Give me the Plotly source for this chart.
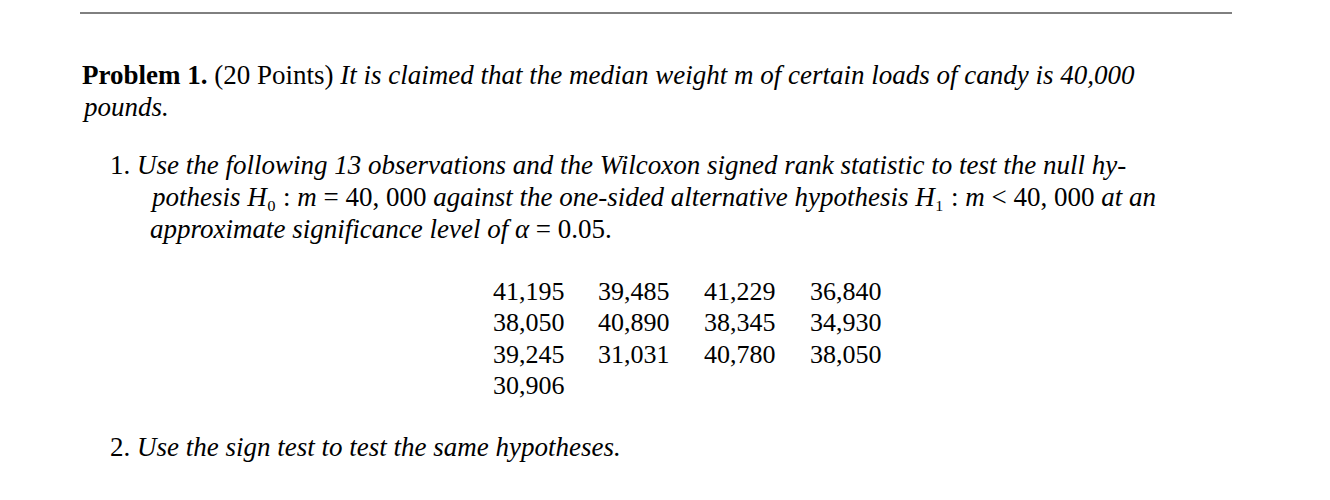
import plotly.graph_objects as go

W, H = 1330, 500
OFF = 8  # page body margin

# observations (13 values) laid out 4 per row
observations = ["41,195", "39,485", "41,229", "36,840",
                "38,050", "40,890", "38,345", "34,930",
                "39,245", "31,031", "40,780", "38,050",
                "30,906"]
col_right = [567, 672, 778, 884]
row_y = [291, 322, 354, 385]

text_lines = [
    (80, 75, "<b>Problem 1.</b> (20 Points) <i>It is claimed that the median weight m of certain loads of candy is 40,000</i>"),
    (80, 107, "<i>pounds.</i>"),
    (108, 165, "1. <i>Use the following 13 observations and the Wilcoxon signed rank statistic to test the null hy-</i>"),
    (148, 197, "<i>pothesis H</i>₀ : <i>m</i> = 40, 000 <i>against the one-sided alternative hypothesis H</i>₁ : <i>m</i> &lt; 40, 000 <i>at an</i>"),
    (148, 229, "<i>approximate significance level of α</i> = 0.05."),
    (108, 447, "2. <i>Use the sign test to test the same hypotheses.</i>"),
]

font = dict(family="Liberation Serif", size=27, color="black")
numfont = dict(family="Liberation Serif", size=26, color="black")


def px(x, y):
    return (x - OFF) / W, 1 - (y - OFF) / H


fig = go.Figure()
ann = []
for x, y, t in text_lines:
    X, Y = px(x, y)
    ann.append(dict(x=X, y=Y, xref="paper", yref="paper", text=t,
                    showarrow=False, xanchor="left", yanchor="middle", font=font))
for i, v in enumerate(observations):
    r, c = divmod(i, 4)
    X, Y = px(col_right[c], row_y[r])
    ann.append(dict(x=X, y=Y, xref="paper", yref="paper",
                    text=v, showarrow=False, xanchor="right", yanchor="middle", font=numfont))

x0, y0 = px(80, 13)
x1, _ = px(1232, 13)
fig.update_layout(
    width=W, height=H, margin=dict(l=0, r=0, t=0, b=0),
    paper_bgcolor="white", plot_bgcolor="white",
    xaxis=dict(visible=False, range=[0, 1]), yaxis=dict(visible=False, range=[0, 1]),
    annotations=ann,
    shapes=[dict(type="line", xref="paper", yref="paper", x0=x0, x1=x1,
                 y0=y0, y1=y0, line=dict(color="black", width=1))],
)
fig.write_html("out.html")
